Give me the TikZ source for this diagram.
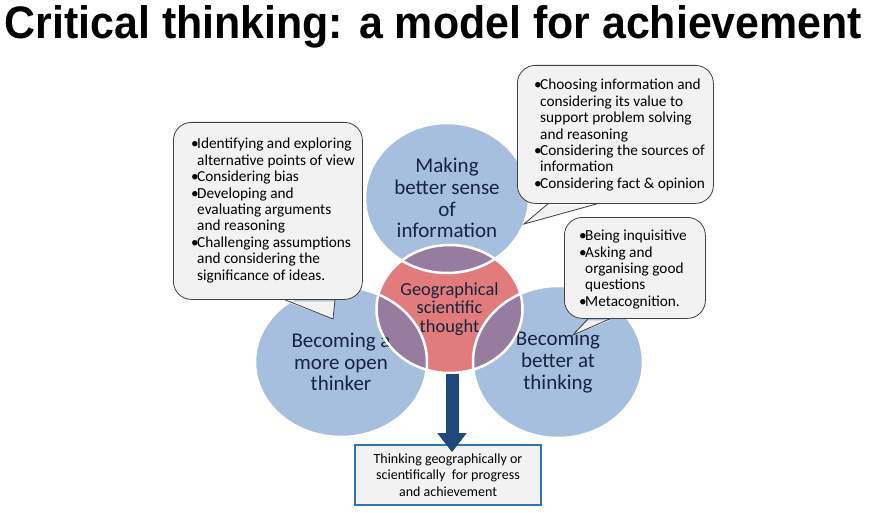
\documentclass[tikz,border=0pt]{standalone}
\usepackage{fontspec}
\setmainfont{Carlito}
\newfontfamily\headfont{Liberation Sans}
\usetikzlibrary{shapes.geometric,arrows.meta}

\definecolor{lobeblue}{RGB}{167,191,222}
\definecolor{corered}{RGB}{226,124,124}
\definecolor{mixpurple}{RGB}{152,124,160}
\definecolor{inkblue}{RGB}{23,36,63}
\definecolor{notegrey}{RGB}{242,242,242}
\definecolor{noteline}{RGB}{64,64,64}
\definecolor{arrowblue}{RGB}{31,73,125}
\definecolor{frameblue}{RGB}{46,117,182}

\newcommand{\bul}{\makebox[6pt][l]{\textbullet}}
\newcommand{\gap}{\hspace*{6pt}}

\tikzset{
  lobe/.style={ellipse, inner sep=0pt, draw=white, line width=2.5pt,
    text=inkblue, align=center, font=\fontsize{21}{21.7}\selectfont},
  note/.style={draw=noteline, fill=notegrey, line width=0.8pt,
    rounded corners=18pt, anchor=north west, inner sep=0pt},
  notetext/.style={anchor=north west, align=left, inner sep=0pt,
    font=\fontsize{15.3}{16.4}\selectfont},
  tail/.style={draw=noteline, line width=0.8pt, line join=miter},
  goalbox/.style={draw=frameblue, fill=notegrey, line width=1.6pt,
    minimum width=186pt, minimum height=60pt, align=center,
    font=\fontsize{14}{16.4}\selectfont},
  flow/.style={draw=arrowblue, line width=13pt,
    -{Triangle[width=28pt,length=19pt]}}
}

\begin{document}
\begin{tikzpicture}[x=1pt,y=-1pt]

\useasboundingbox (0,0) rectangle (869,513);

% Title
\node[anchor=base, inner sep=0pt, font=\headfont\bfseries] (title) at (433.5,39)
{\resizebox{857pt}{33pt}{Critical thinking: a model for achievement}};

%--------------------------------------------------
% Outcome box and arrow
%--------------------------------------------------
\node[goalbox] (goal) at (448,475)
{Thinking geographically or\\scientifically\ \ for progress\\and achievement};

%--------------------------------------------------
% Circles
%--------------------------------------------------
\coordinate (cInfo) at (447,198);
\coordinate (cOpen) at (341,362);
\coordinate (cBetter) at (558,362);
\coordinate (cCore) at (449.5,309);

\fill[lobeblue] (cInfo) ellipse [x radius=82pt, y radius=75pt];
\fill[lobeblue] (cOpen) ellipse [x radius=86pt, y radius=75pt];
\fill[lobeblue] (cBetter) ellipse [x radius=85pt, y radius=76pt];
\fill[corered] (cCore) ellipse [x radius=73pt, y radius=64pt];

% overlaps
\begin{scope}
\clip (cCore) ellipse [x radius=73pt, y radius=64pt];
\fill[mixpurple] (cInfo) ellipse [x radius=82pt, y radius=75pt];
\fill[mixpurple] (cOpen) ellipse [x radius=86pt, y radius=75pt];
\fill[mixpurple] (cBetter) ellipse [x radius=85pt, y radius=76pt];
\end{scope}

\node[lobe, minimum width=164pt, minimum height=150pt] (info) at (cInfo)
{Making\\better sense\\of\\information};

\node[lobe, minimum width=172pt, minimum height=150pt] (open) at (cOpen)
{Becoming a\\more open\\thinker};

\node[lobe, minimum width=170pt, minimum height=152pt] (better) at (cBetter)
{Becoming\\better at\\thinking};

\node[lobe, minimum width=146pt, minimum height=128pt,
  font=\fontsize{18.4}{18.3}\selectfont] (thought) at (cCore)
{Geographical\\scientific\\thought};

\draw[flow] ([xshift=2.5pt]thought.south) -- ([xshift=4pt,yshift=-8pt]goal.north);

%--------------------------------------------------
% Callout: open thinker
%--------------------------------------------------
\node[note, minimum width=189pt, minimum height=177pt] (openNote) at (173,122) {};
\coordinate (openTip) at (333,319);
\fill[notegrey] ([xshift=112pt,yshift=-1.5pt]openNote.south west) -- (openTip)
  -- ([xshift=162pt,yshift=-1.5pt]openNote.south west) -- cycle;
\draw[tail] ([xshift=112pt]openNote.south west) -- (openTip)
  -- ([xshift=162pt]openNote.south west);
\node[notetext] (openText) at (191,138)
{\bul Identifying and exploring\\
 \gap alternative points of view\\
 \bul Considering bias\\
 \bul Developing and\\
 \gap evaluating arguments\\
 \gap and reasoning\\
 \bul Challenging assumptions\\
 \gap and considering the\\
 \gap significance of ideas.};

%--------------------------------------------------
% Callout: information
%--------------------------------------------------
\node[note, minimum width=196pt, minimum height=138pt] (infoNote) at (517,65) {};
\coordinate (infoTip) at (524,224);
\fill[notegrey] ([xshift=31pt,yshift=-1.5pt]infoNote.south west) -- (infoTip)
  -- ([xshift=80pt,yshift=-1.5pt]infoNote.south west) -- cycle;
\draw[tail] ([xshift=31pt]infoNote.south west) -- (infoTip)
  -- ([xshift=80pt]infoNote.south west);
\node[notetext] (infoText) at (534,79)
{\bul Choosing information and\\
 \gap considering its value to\\
 \gap support problem solving\\
 \gap and reasoning\\
 \bul Considering the sources of\\
 \gap information\\
 \bul Considering fact \& opinion};

%--------------------------------------------------
% Callout: better thinking
%--------------------------------------------------
\node[note, minimum width=141pt, minimum height=101pt] (betterNote) at (564,217) {};
\coordinate (betterTip) at (573,335);
\fill[notegrey] ([xshift=24pt,yshift=-1.5pt]betterNote.south west) -- (betterTip)
  -- ([xshift=46pt,yshift=-1.5pt]betterNote.south west) -- cycle;
\draw[tail] ([xshift=24pt]betterNote.south west) -- (betterTip)
  -- ([xshift=46pt]betterNote.south west);
\node[notetext] (betterText) at (579,230)
{\bul Being inquisitive\\
 \bul Asking and\\
 \gap organising good\\
 \gap questions\\
 \bul Metacognition.};

\end{tikzpicture}
\end{document}
